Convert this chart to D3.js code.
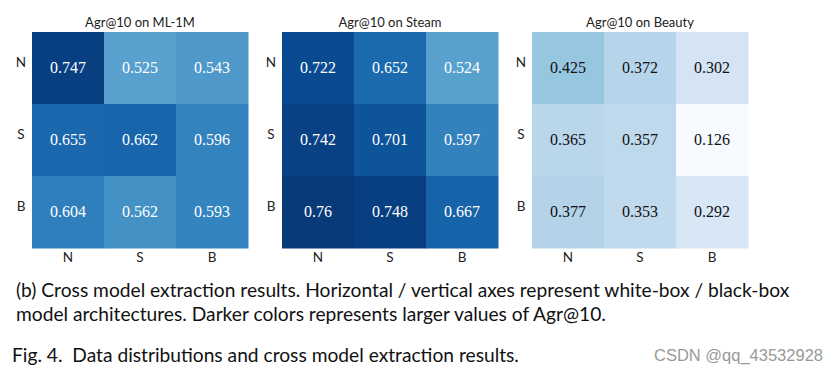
<!DOCTYPE html>
<html>
<head>
<meta charset="utf-8">
<script src="https://d3js.org/d3.v7.min.js"></script>
<style>
  body { margin: 0; background: #fff; }
  svg { display: block; }
</style>
</head>
<body>
<div id="chart"></div>
<script>
// model architectures on both axes (cols: white-box, rows: black-box)
const models = ["N", "S", "B"];
const datasets = ["ML-1M", "Steam", "Beauty"];

// Agr@10 values, rows = black-box, cols = white-box
const ml1mValues = [
  [0.747, 0.525, 0.543],
  [0.655, 0.662, 0.596],
  [0.604, 0.562, 0.593]
];
const steamValues = [
  [0.722, 0.652, 0.524],
  [0.742, 0.701, 0.597],
  [0.76, 0.748, 0.667]
];
const beautyValues = [
  [0.425, 0.372, 0.302],
  [0.365, 0.357, 0.126],
  [0.377, 0.353, 0.292]
];
const panelValues = [ml1mValues, steamValues, beautyValues];

const captionLines = [
  "(b) Cross model extraction results. Horizontal / vertical axes represent white-box / black-box",
  "model architectures. Darker colors represents larger values of Agr@10."
];
const figCaption = "Fig. 4.  Data distributions and cross model extraction results.";
const watermark = "CSDN @qq_43532928";

const width = 837, height = 372;
const svg = d3.select("#chart").append("svg")
  .attr("width", width)
  .attr("height", height);

const color = d3.scaleSequential(d3.interpolateBlues)
  .domain([0.2, 0.78])
  .clamp(true);

const panelLeft = [32, 282, 532];
const gridTop = 32, size = 216;
const labelFont = "Lato, 'Open Sans', sans-serif";

panelValues.forEach((vals, p) => {
  const g = svg.append("g").attr("transform", `translate(${panelLeft[p]},${gridTop})`);
  const x = d3.scaleBand().domain(models).range([0, size]);
  const y = d3.scaleBand().domain(models).range([0, size]);

  const cells = [];
  vals.forEach((row, i) => row.forEach((v, j) => cells.push({ r: models[i], c: models[j], v })));

  g.selectAll("rect")
    .data(cells)
    .enter().append("rect")
    .attr("x", d => x(d.c))
    .attr("y", d => y(d.r))
    .attr("width", x.bandwidth() + 0.5)
    .attr("height", y.bandwidth() + 0.5)
    .attr("fill", d => color(d.v));

  g.selectAll("text.val")
    .data(cells)
    .enter().append("text")
    .attr("class", "val")
    .attr("x", d => x(d.c) + x.bandwidth() / 2)
    .attr("y", d => y(d.r) + y.bandwidth() / 2 + 5)
    .attr("text-anchor", "middle")
    .attr("font-family", "'Liberation Serif', serif")
    .attr("font-size", "16px")
    .attr("fill", d => d.v > 0.45 ? "#fff" : "#111")
    .text(d => String(d.v));

  // title
  g.append("text")
    .attr("x", size / 2)
    .attr("y", -5)
    .attr("text-anchor", "middle")
    .attr("font-family", labelFont)
    .attr("font-size", "13px")
    .attr("fill", "#222")
    .text(`Agr@10 on ${datasets[p]}`);

  // row labels
  g.selectAll("text.row")
    .data(models)
    .enter().append("text")
    .attr("class", "row")
    .attr("x", -11)
    .attr("y", d => y(d) + y.bandwidth() / 2 - 1)
    .attr("text-anchor", "middle")
    .attr("font-family", labelFont)
    .attr("font-size", "13.5px")
    .attr("fill", "#222")
    .text(d => d);

  // column labels
  g.selectAll("text.col")
    .data(models)
    .enter().append("text")
    .attr("class", "col")
    .attr("x", d => x(d) + x.bandwidth() / 2)
    .attr("y", size + 14)
    .attr("text-anchor", "middle")
    .attr("font-family", labelFont)
    .attr("font-size", "13.5px")
    .attr("fill", "#222")
    .text(d => d);
});

// captions
captionLines.forEach((line, i) => {
  svg.append("text")
    .attr("x", 16)
    .attr("y", 297 + i * 24)
    .attr("font-family", labelFont)
    .attr("font-size", "19.2px")
    .attr("fill", "#111")
    .text(line);
});

svg.append("text")
  .attr("x", 12)
  .attr("y", 362)
  .attr("font-family", labelFont)
  .attr("font-size", "19.2px")
  .attr("fill", "#111")
  .style("white-space", "pre")
  .text(figCaption);

svg.append("text")
  .attr("x", 823)
  .attr("y", 361)
  .attr("text-anchor", "end")
  .attr("font-family", "'Liberation Sans', sans-serif")
  .attr("font-size", "16.5px")
  .attr("fill", "#999")
  .text(watermark);
</script>
</body>
</html>
